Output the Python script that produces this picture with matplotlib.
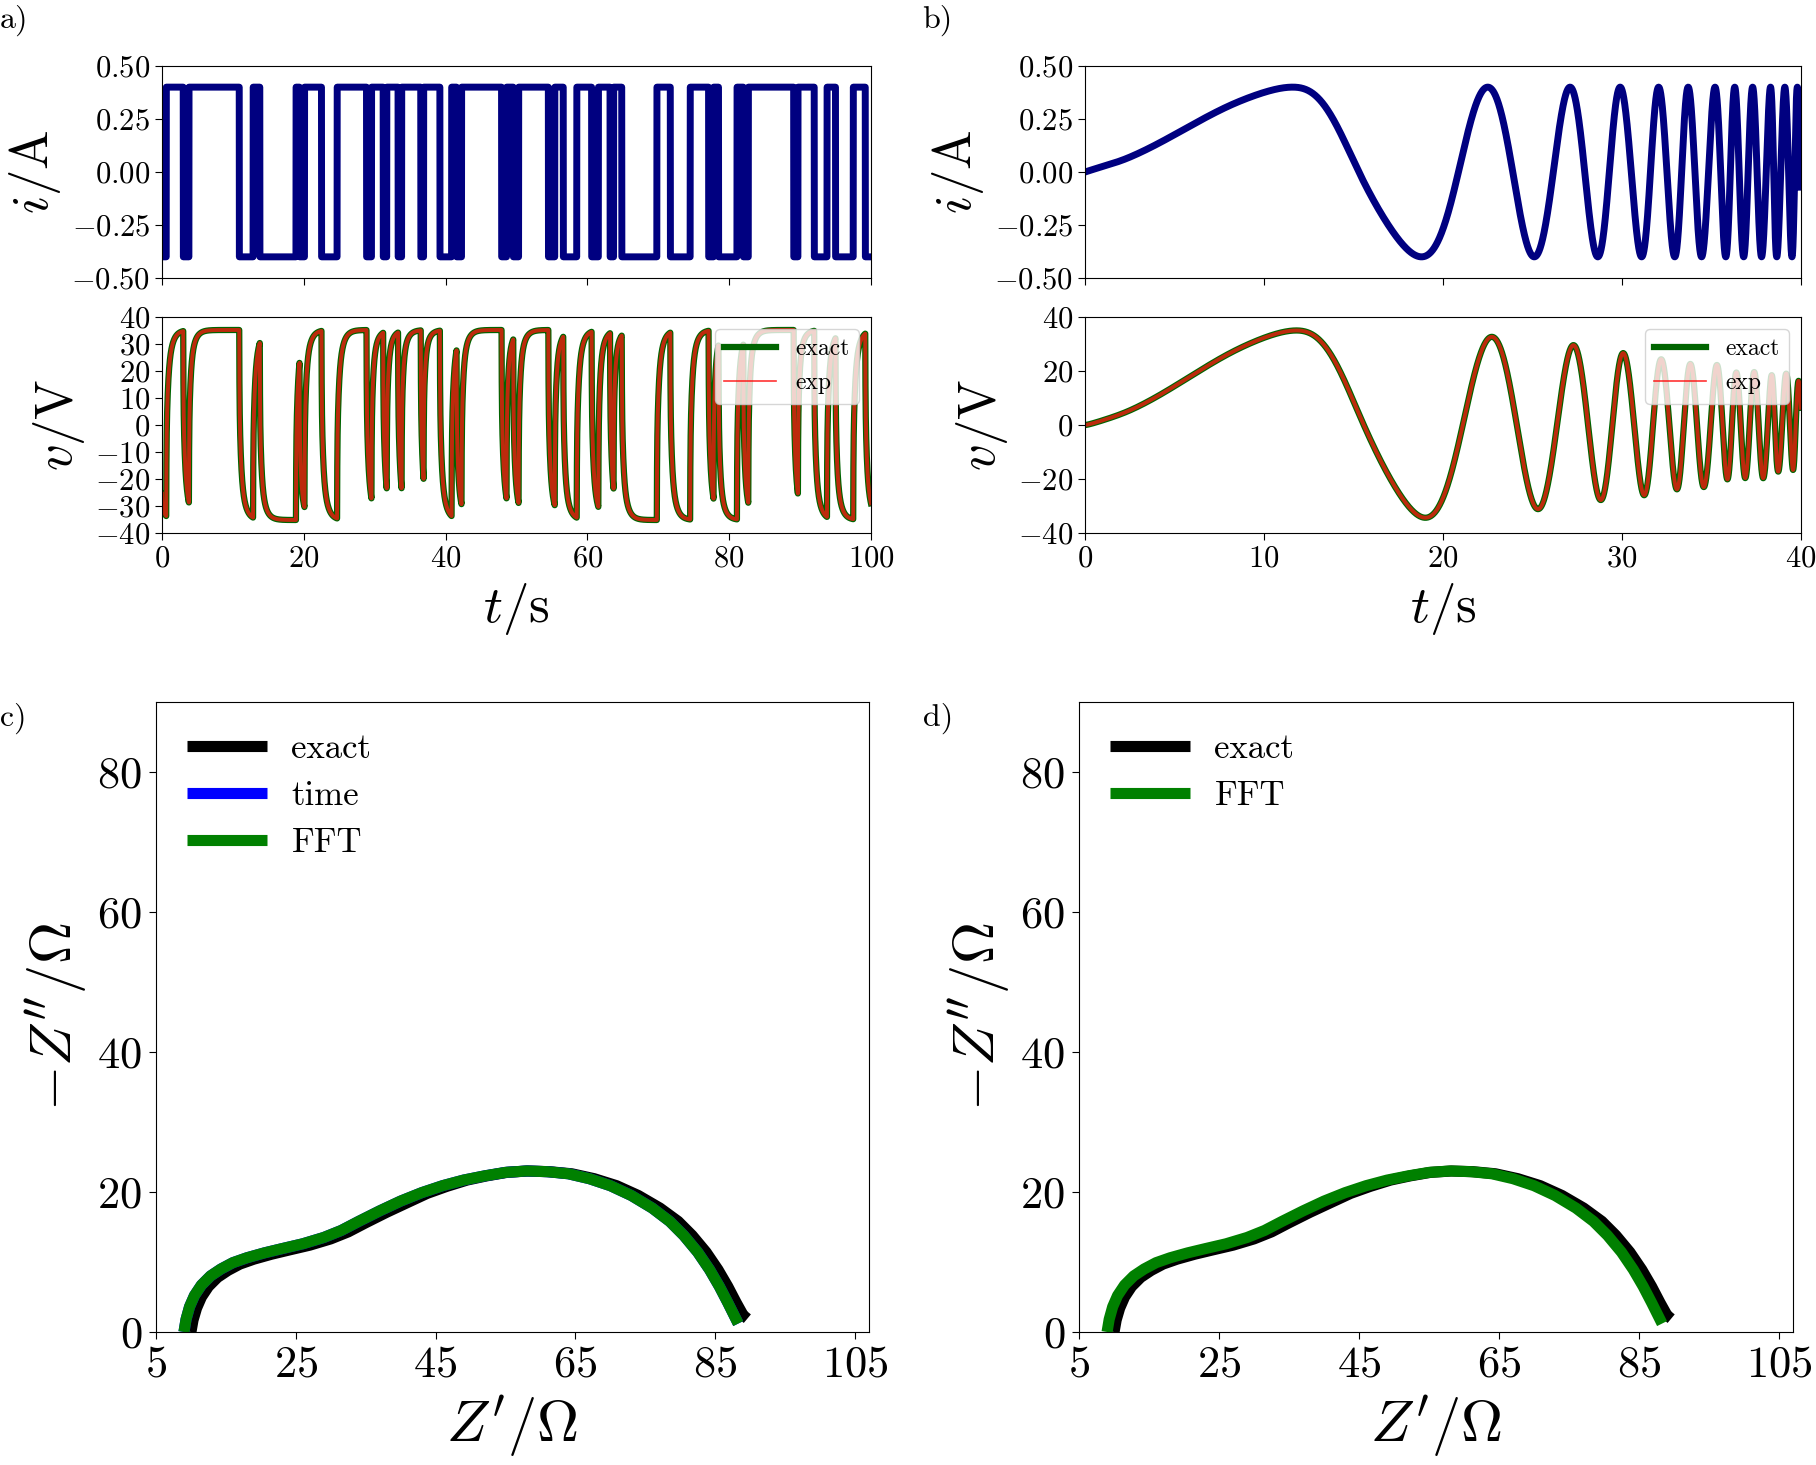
import numpy as np
import matplotlib.pyplot as plt
from matplotlib.lines import Line2D

plt.rcParams['font.family'] = 'serif'
plt.rcParams['font.serif'] = ['cmr10']
plt.rcParams['mathtext.fontset'] = 'cm'
plt.rcParams['axes.formatter.use_mathtext'] = True
plt.rcParams['axes.unicode_minus'] = True

# ---- data ----
# PRBS current: switching instants (s), signal starts at the low level
prbs_switch = [0.6, 3.0, 3.8, 10.9, 12.85, 13.8, 18.9, 19.4, 20.1, 22.5,
               24.7, 28.85, 29.55, 31.2, 31.7, 33.3, 33.8, 36.5, 36.9, 39.2,
               40.85, 41.55, 42.25, 47.9, 48.6, 49.55, 50.3, 54.5, 55.4, 56.6,
               58.5, 60.6, 61.55, 63.2, 63.7, 64.85, 69.8, 71.7, 74.5, 77.1,
               77.8, 78.5, 81.1, 82.0, 82.7, 89.1, 89.7, 92.0, 93.8, 95.0,
               97.5, 99.2]
prbs_amp = 0.4
prbs_end = 100.0

# chirp current: early samples (t, i), first zero crossing,
# then times of successive extrema from the second minimum on
chirp_early_t = [0.0, 2.5, 8.0]
chirp_early_i = [0.0, 0.07, 0.31]
chirp_first_max = 11.6
chirp_first_zero = 15.3
chirp_extrema = [18.8, 22.5, 25.1, 27.1, 28.65, 29.9, 31.1, 32.05, 32.95,
                 33.7, 34.45, 35.2, 35.8, 36.3, 36.8, 37.3, 37.8, 38.3, 38.65,
                 39.1, 39.5, 39.8]
chirp_amp = 0.4
chirp_end = 40.0

# equivalent circuit (ohm, s)
r0 = 7.0
rc_r = [22.0, 30.0, 29.0]
rc_tau = [0.03, 0.2, 0.6]

# Nyquist curves (Z', -Z'')
z_re_fft = [9.0, 9.3, 9.8, 10.5, 11.5, 12.8, 14.3, 16.0, 18.0, 20.5, 23.0, 26.0, 29.0,
            31.5, 34.0, 37.0, 40.0, 43.0, 46.0, 49.0, 52.0, 55.0, 58.0, 61.0, 64.0,
            67.0, 70.0, 73.0, 76.0, 78.5, 80.5, 82.5, 84.2, 85.6, 86.8, 87.8, 88.3]
z_im_fft = [0.0, 1.8, 3.6, 5.2, 6.7, 8.0, 9.0, 9.9, 10.6, 11.3, 11.9, 12.6, 13.5,
            14.5, 15.8, 17.3, 18.7, 19.9, 20.9, 21.7, 22.3, 22.8, 23.0, 22.9, 22.6,
            21.9, 20.9, 19.5, 17.7, 15.8, 13.8, 11.4, 8.9, 6.5, 4.2, 2.2, 1.2]
z_re_time = [9.0, 9.3, 9.8, 10.5, 11.5, 12.8, 14.3, 16.0, 18.0, 20.5, 23.0, 26.0, 29.0,
             31.5, 34.0, 37.0, 40.0, 43.0, 46.0, 49.0, 52.0, 55.0, 58.0, 61.0, 64.0,
             67.0, 70.0, 73.0, 76.0, 78.5, 80.5, 82.5, 84.2, 85.6, 86.8, 87.8, 88.3]
z_im_time = [0.0, 1.8, 3.6, 5.2, 6.7, 8.0, 9.0, 9.9, 10.6, 11.3, 11.9, 12.6, 13.5,
             14.5, 15.8, 17.3, 18.7, 19.9, 20.9, 21.7, 22.3, 22.8, 23.0, 22.9, 22.6,
             21.9, 20.9, 19.5, 17.7, 15.8, 13.8, 11.4, 8.9, 6.5, 4.2, 2.2, 1.2]
z_re_exact = [10.0, 10.3, 10.8, 11.5, 12.5, 13.8, 15.3, 17.0, 19.0, 21.5, 24.0, 27.0, 30.0,
              32.5, 35.0, 38.0, 41.0, 43.8, 46.6, 49.5, 52.3, 55.2, 58.2, 61.3, 64.5,
              67.7, 70.9, 74.0, 77.1, 79.7, 81.7, 83.7, 85.4, 86.8, 88.0, 89.0, 89.6]
z_im_exact = [0.0, 1.7, 3.4, 5.0, 6.5, 7.8, 8.8, 9.7, 10.4, 11.1, 11.7, 12.4, 13.3,
              14.3, 15.6, 17.1, 18.5, 19.8, 20.8, 21.7, 22.3, 22.8, 23.0, 22.9, 22.6,
              21.9, 20.9, 19.5, 17.7, 15.8, 13.8, 11.4, 8.9, 6.5, 4.2, 2.4, 1.9]


def circuit_voltage(t, cur, init=0.0):
    v = r0 * cur
    dt = np.diff(t, prepend=t[0])
    for r, tau in zip(rc_r, rc_tau):
        a = np.exp(-dt / tau)
        x = np.zeros_like(cur)
        x[0] = init * r * cur[0]
        for k in range(1, len(cur)):
            x[k] = a[k] * x[k - 1] + r * cur[k - 1] * (1 - a[k])
        v = v + x
    return v


def hermite(x, xs, ys):
    # monotone cubic through the knots (harmonic-mean slopes)
    xs = np.asarray(xs, float)
    ys = np.asarray(ys, float)
    h = np.diff(xs)
    d = np.diff(ys) / h
    m = np.empty_like(ys)
    m[0], m[-1] = d[0], d[-1]
    m[1:-1] = 2.0 / (1.0 / d[:-1] + 1.0 / d[1:])
    idx = np.clip(np.searchsorted(xs, x, side='right') - 1, 0, len(xs) - 2)
    s = (x - xs[idx]) / h[idx]
    h00 = 2 * s**3 - 3 * s**2 + 1
    h10 = s**3 - 2 * s**2 + s
    h01 = -2 * s**3 + 3 * s**2
    h11 = s**3 - s**2
    return (h00 * ys[idx] + h10 * h[idx] * m[idx]
            + h01 * ys[idx + 1] + h11 * h[idx] * m[idx + 1])


# PRBS signal
t_a = np.arange(0, prbs_end + 1e-9, 0.005)
n_sw = np.searchsorted(prbs_switch, t_a, side='right')
i_a = -prbs_amp * (-1.0) ** n_sw
v_a = circuit_voltage(t_a, i_a, init=0.7)

# chirp signal: phase knots from the read samples
knot_t = list(chirp_early_t) + [chirp_first_max, chirp_first_zero] + chirp_extrema + [chirp_end]
knot_ph = [float(np.arcsin(c / chirp_amp)) for c in chirp_early_i]
knot_ph += [np.pi / 2, np.pi]
knot_ph += [1.5 * np.pi + k * np.pi for k in range(len(chirp_extrema))]
knot_ph.append(knot_ph[-1] + 1.75)
t_b = np.arange(0, chirp_end + 1e-9, 0.002)
i_b = chirp_amp * np.sin(hermite(t_b, knot_t, knot_ph))
v_b = circuit_voltage(t_b, i_b)

navy = '#000080'
fig = plt.figure(figsize=(18.16, 14.65), dpi=100)

tick_small = 22
tick_big = 32
lab_small = 38
lab_big = 42


def current_ax(rect, t, cur, xmax):
    ax = fig.add_axes(rect)
    ax.plot(t, cur, color=navy, lw=5)
    ax.set_xlim(0, xmax)
    ax.set_ylim(-0.5, 0.5)
    ax.set_yticks([-0.5, -0.25, 0, 0.25, 0.5])
    ax.set_yticklabels(['$-0.50$', '$-0.25$', '$0.00$', '$0.25$', '$0.50$'])
    ax.tick_params(labelsize=tick_small, labelbottom=False, length=5)
    ax.set_ylabel(r'$i/\mathrm{A}$', fontsize=lab_small, labelpad=6)
    return ax


def voltage_ax(rect, t, v, xmax, xticks, yticks):
    ax = fig.add_axes(rect)
    ax.plot(t, v, color='#006400', lw=4.5, label='exact')
    ax.plot(t, v, color='#e0200f', lw=2.8, alpha=0.85, label='exp')
    ax.set_xlim(0, xmax)
    ax.set_ylim(-40, 40)
    ax.set_xticks(xticks)
    ax.set_yticks(yticks)
    ax.tick_params(labelsize=tick_small, length=5)
    ax.set_ylabel(r'$v/\mathrm{V}$', fontsize=lab_small, labelpad=6)
    ax.set_xlabel(r'$t/\mathrm{s}$', fontsize=lab_small, labelpad=6)
    handles = [Line2D([], [], color='#006400', lw=4.5),
               Line2D([], [], color='red', lw=1.2, alpha=0.8)]
    ax.legend(handles, ['exact', 'exp'], loc='upper right', fontsize=17,
              handlelength=2.2, framealpha=0.8)
    return ax


current_ax([0.0892, 0.8102, 0.3904, 0.1448], t_a, i_a, 100)
voltage_ax([0.0892, 0.6362, 0.3904, 0.1474], t_a, v_a, 100,
           [0, 20, 40, 60, 80, 100], list(range(-40, 41, 10)))
current_ax([0.5975, 0.8102, 0.3942, 0.1448], t_b, i_b, 40)
voltage_ax([0.5975, 0.6362, 0.3942, 0.1474], t_b, v_b, 40,
           [0, 10, 20, 30, 40], [-40, -20, 0, 20, 40])


def nyquist_ax(rect, series):
    ax = fig.add_axes(rect)
    for x, y, c, lab in series:
        ax.plot(x, y, color=c, lw=8, label=lab, solid_capstyle='butt')
    ax.set_xlim(5, 107)
    ax.set_ylim(0, 90)
    ax.set_xticks([5, 25, 45, 65, 85, 105])
    ax.set_yticks([0, 20, 40, 60, 80])
    ax.tick_params(labelsize=tick_big, length=5, pad=5)
    ax.set_xlabel(r"$Z'/\Omega$", fontsize=lab_big, labelpad=6)
    ax.set_ylabel(r"$-Z''/\Omega$", fontsize=lab_big, labelpad=6)
    ax.legend(loc='upper left', fontsize=25, frameon=False, handlelength=2.3,
              handletextpad=0.7, labelspacing=0.45)
    return ax


nyquist_ax([0.0859, 0.0908, 0.3926, 0.43],
           [(z_re_exact, z_im_exact, 'black', 'exact'),
            (z_re_time, z_im_time, 'blue', 'time'),
            (z_re_fft, z_im_fft, 'green', 'FFT')])
nyquist_ax([0.5942, 0.0908, 0.3931, 0.43],
           [(z_re_exact, z_im_exact, 'black', 'exact'),
            (z_re_fft, z_im_fft, 'green', 'FFT')])

fig.text(0.0, 0.997, 'a)', fontsize=23, va='top')
fig.text(0.508, 0.997, 'b)', fontsize=23, va='top')
fig.text(0.0, 0.52, 'c)', fontsize=23, va='top')
fig.text(0.508, 0.52, 'd)', fontsize=23, va='top')

fig.savefig('out.png', dpi=100)
